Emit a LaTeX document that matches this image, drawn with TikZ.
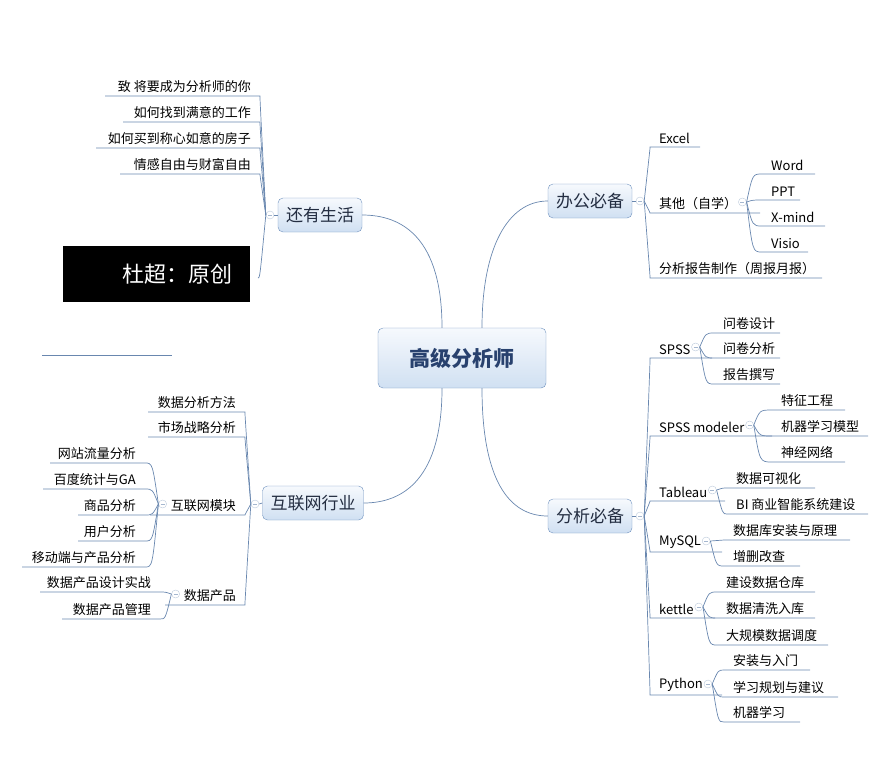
\documentclass[tikz,border=0pt]{standalone}
\usepackage{fontspec}
\setmainfont{Noto Sans CJK SC}
\usetikzlibrary{calc}
\definecolor{linec}{RGB}{105,135,175}
\definecolor{boxline}{RGB}{110,145,190}
\definecolor{boxtop}{RGB}{246,249,253}
\definecolor{boxbot}{RGB}{208,224,242}
\definecolor{maintext}{RGB}{35,45,65}
\definecolor{centertext}{RGB}{40,65,110}
\tikzset{
  link/.style={draw=linec, line width=0.7pt},
  topic/.style={draw=boxline, rounded corners=5pt, top color=boxtop, bottom color=boxbot,
    minimum height=34pt, inner xsep=8pt, text=maintext, font=\fontsize{17}{20}\selectfont},
  central/.style={topic, minimum width=168pt, minimum height=60pt, text=centertext,
    font=\fontsize{21}{24}\selectfont\bfseries},
  leafR/.style={anchor=south west, inner xsep=9pt, inner ysep=3pt, font=\fontsize{13}{15}\selectfont},
  leafL/.style={anchor=south east, inner xsep=9pt, inner ysep=3pt, font=\fontsize{13}{15}\selectfont},
  fold/.style={circle, draw=linec!45, fill=white, inner sep=0pt, minimum size=8pt,
    path picture={\draw[linec!60] ([xshift=2pt]path picture bounding box.west) -- ([xshift=-2pt]path picture bounding box.east);}}
}
\begin{document}
\begin{tikzpicture}[x=1pt,y=1pt]
    \useasboundingbox (0,0) rectangle (880,-782);
    % main topics
    \node[central] (center) at (462,-358) {高级分析师};
    \node[topic] (office) at (590,-201) {办公必备};
    \node[topic] (analysis) at (590,-516) {分析必备};
    \node[topic] (life) at (320,-215) {还有生活};
    \node[topic] (net) at (313,-503) {互联网行业};
    \draw[link] ($(center.north)+(20,0)$) .. controls +(0,80) and +(-40,0) .. (office.west);
    \draw[link] ($(center.south)+(20,0)$) .. controls +(0,-90) and +(-40,0) .. (analysis.west);
    \draw[link] ($(center.north)+(-20,0)$) .. controls +(0,90) and +(40,0) .. (life.east);
    \draw[link] ($(center.south)+(-20,0)$) .. controls +(0,-90) and +(40,0) .. (net.east);
    \node[fold] (officeC) at (640,-201) {};
    \node[fold] (analysisC) at (640,-516) {};
    \node[fold] (lifeC) at (270,-215) {};
    \node[fold] (netC) at (255,-504) {};
    % right side leaves
    \foreach \n/\x/\y/\len/\txt/\j in {
        excel/650/147/50/Excel/officeC, other/650/213/110/其他（自学）/officeC,
        report/650/278/172/分析报告制作（周报月报）/officeC,
        word/762/174/53/Word/otherC, ppt/762/200/38/PPT/otherC,
        xmind/762/226/63/X-mind/otherC, visio/762/252/46/Visio/otherC,
        spss/650/358/62/SPSS/analysisC, modeler/650/436/122/SPSS modeler/analysisC,
        tableau/650/501/75/Tableau/analysisC, mysql/650/552/72/MySQL/analysisC,
        kettle/650/618/65/kettle/analysisC, python/650/695/72/Python/analysisC,
        qDesign/714/333/66/问卷设计/spssC, qAnalysis/714/358/66/问卷分析/spssC,
        qReport/714/384/66/报告撰写/spssC,
        feature/772/410/73/特征工程/modelerC, mlModel/772/436/96/机器学习模型/modelerC,
        neural/772/462/73/神经网络/modelerC,
        visual/727/488/88/数据可视化/tableauC, bi/727/514/141/BI 商业智能系统建设/tableauC,
        dbSetup/724/540/126/数据库安装与原理/mysqlC, crud/724/566/76/增删改查/mysqlC,
        warehouse/717/592/98/建设数据仓库/kettleC, clean/717/618/98/数据清洗入库/kettleC,
        schedule/717/645/111/大规模数据调度/kettleC,
        start/724/670/86/安装与入门/pythonC, plan/724/697/114/学习规划与建议/pythonC,
        ml/724/722/76/机器学习/pythonC} {
        \node[leafR] (\n) at (\x,-\y) {\txt};
        \draw[link] (\j.east) .. controls ($(\j.east|-\n.south west)+(6,0)$) .. (\n.south west) -- ++(\len,0);
        \foreach \p in {other,spss,modeler,tableau,mysql,kettle,python} {
            \ifx\n\p
                \node[fold] (\n C) at ($(\n.south east)+(-4,11)$) {};
            \fi
        }
    }
    % left side leaves
    \foreach \n/\x/\y/\len/\txt/\j in {
        toYou/260/96/155/致 将要成为分析师的你/lifeC, job/260/122/137/如何找到满意的工作/lifeC,
        house/260/148/164/如何买到称心如意的房子/lifeC, freedom/260/174/140/情感自由与财富自由/lifeC,
        method/245/412/97/数据分析方法/netC, market/245/437/97/市场战略分析/netC,
        module/245/515/95/互联网模块/netC, product/245/605/80/数据产品/netC,
        traffic/145/463/95/网站流量分析/moduleC, baidu/145/489/102/百度统计与GA/moduleC,
        goods/145/515/67/商品分析/moduleC, user/145/541/67/用户分析/moduleC,
        mobile/145/567/123/移动端与产品分析/moduleC,
        productDesign/160/592/120/数据产品设计实战/productC,
        productManage/160/619/98/数据产品管理/productC} {
        \node[leafL] (\n) at (\x,-\y) {\txt};
        \draw[link] (\j.west) .. controls ($(\j.west|-\n.south east)+(-6,0)$) .. (\n.south east) -- ++(-\len,0);
        \foreach \p in {module,product} {
            \ifx\n\p
                \node[fold] (\n C) at ($(\n.south west)+(1,11)$) {};
            \fi
        }
    }
    \coordinate (hidden) at (258,-278);
    \draw[link] (lifeC.west) .. controls ($(lifeC.west|-hidden)+(-6,0)$) .. (hidden);
    \draw[link] (officeC.west) -- (office.east);
    \draw[link] (analysisC.west) -- (analysis.east);
    \draw[link] (lifeC.east) -- (life.west);
    \draw[link] (netC.east) -- (net.west);
    % author label
    \node[fill=black, text=white, minimum width=187pt, minimum height=56pt, inner xsep=18pt,
        align=right, text width=151pt, font=\fontsize{22}{26}\selectfont] (author) at (156.5,-274) {杜超：原创};
    \draw[link] (42,-355) -- (172,-355);
\end{tikzpicture}
\end{document}
